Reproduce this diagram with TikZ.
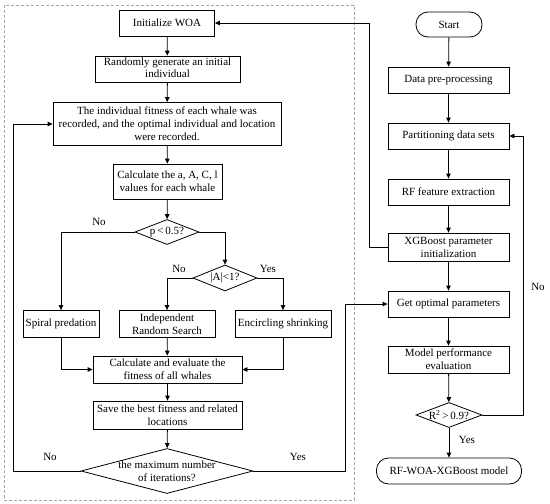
\documentclass[tikz,border=0pt]{standalone}
\usepackage{fontspec}
\setmainfont{Liberation Serif}
\usetikzlibrary{arrows.meta,shapes.geometric}
\begin{document}
\begin{tikzpicture}[x=1pt,y=-1pt,
  every node/.style={font=\fontsize{11}{13}\selectfont},
  box/.style={draw,line width=0.8pt,align=center,inner sep=1pt},
  term/.style={box,rounded corners=12pt},
  dia/.style={draw,line width=0.8pt,diamond,inner sep=0pt,aspect=2},
  arr/.style={line width=0.8pt,-{Triangle[length=5pt,width=4.5pt]}},
  lab/.style={inner sep=1pt}]
\useasboundingbox (0,0) rectangle (550,504);
\draw[gray!70,dash pattern=on 3pt off 2pt,line width=0.6pt] (4,5) rectangle (354,500);
% left column
\node[box,minimum width=95pt,minimum height=26pt] (init) at (167,23) {Initialize WOA};
\node[box,minimum width=145pt,minimum height=26pt] (rand) at (167.5,69) {\renewcommand{\arraystretch}{0.95}\begin{tabular}{@{}c@{}}Randomly generate an initial\\[-1pt] individual\end{tabular}};
\node[box,minimum width=228pt,minimum height=43pt] (fit) at (167,124) {The individual fitness of each whale was\\recorded, and the optimal individual and location\\were recorded.};
\node[box,minimum width=109pt,minimum height=35pt] (calc) at (167.5,181.5) {Calculate the a, A, C, l\\values for each whale};
\node[dia,minimum width=64pt,minimum height=25pt,label={center:p\,<\,0.5?}] (p) at (167,232) {};
\node[dia,minimum width=64pt,minimum height=26pt,label={center:|A|<1?}] (A) at (225,278) {};
\node[box,minimum width=76pt,minimum height=27pt] (spiral) at (61,324) {Spiral predation};
\node[box,minimum width=96pt,minimum height=27pt] (irs) at (167,324) {Independent\\Random Search};
\node[box,minimum width=96pt,minimum height=27pt] (enc) at (283,324) {Encircling shrinking};
\node[box,minimum width=149pt,minimum height=27pt] (eval) at (167.5,369.5) {Calculate and evaluate the\\fitness of all whales};
\node[box,minimum width=149pt,minimum height=28pt] (save) at (167.5,415) {Save the best fitness and related\\locations};
\node[dia,minimum width=172pt,minimum height=45pt,label={[align=center]center:the maximum number\\of iterations?}] (max) at (167,471) {};
% right column
\node[term,minimum width=66pt,minimum height=25pt] (start) at (449,24.5) {Start};
\node[box,minimum width=121pt,minimum height=26pt] (data) at (448.5,80) {Data pre-processing};
\node[box,minimum width=121pt,minimum height=26pt] (part) at (448.5,136) {Partitioning data sets};
\node[box,minimum width=121pt,minimum height=26pt] (rf) at (448.5,192) {RF feature extraction};
\node[box,minimum width=121pt,minimum height=28pt] (xgb) at (448.5,247) {XGBoost parameter\\initialization};
\node[box,minimum width=121pt,minimum height=26pt] (opt) at (448.5,304) {Get optimal parameters};
\node[box,minimum width=121pt,minimum height=27pt] (perf) at (448.5,359.5) {Model performance\\evaluation};
\node[dia,minimum width=66pt,minimum height=25pt,label={center:R\textsuperscript{2}\,>\,0.9?}] (r2) at (449,415) {};
\node[term,minimum width=145pt,minimum height=26pt] (final) at (449,471) {RF-WOA-XGBoost model};
% labels
\node[lab] (l1) at (99,222) {No};
\node[lab] (l2) at (179,269) {No};
\node[lab] (l3) at (268,269) {Yes};
\node[lab] (l4) at (50,457) {No};
\node[lab] (l5) at (298,457) {Yes};
\node[lab] (l6) at (467,440) {Yes};
\node[lab] (l7) at (538,287) {No};
% left connectors
\draw[arr] (init) -- (rand);
\draw[arr] (rand) -- (fit);
\draw[arr] (fit) -- (calc);
\draw[arr] (calc) -- (p);
\draw[arr] (p.west) -| (spiral.north);
\draw[arr] (p.east) -| (A.north);
\draw[arr] (A.west) -| (irs.north);
\draw[arr] (A.east) -| (enc.north);
\draw[arr] (spiral.south) |- (eval.west);
\draw[arr] (enc.south) |- (eval.east);
\draw[arr] (irs) -- (eval);
\draw[arr] (eval) -- (save);
\draw[arr] (save) -- (max);
\draw[arr] (max.west) -- ++(-67,0) |- (fit.west);
\draw[arr] (max.east) -- ++(92,0) |- (opt.west);
% right connectors
\draw[arr] (start) -- (data);
\draw[arr] (data) -- (part);
\draw[arr] (part) -- (rf);
\draw[arr] (rf) -- (xgb);
\draw[arr] (xgb) -- (opt);
\draw[arr] (opt) -- (perf);
\draw[arr] (perf) -- (r2);
\draw[arr] (r2) -- (final);
\draw[arr] (r2.east) -- ++(41,0) |- (part.east);
\draw[arr] (xgb.west) -- ++(-18,0) |- (init.east);
\end{tikzpicture}
\end{document}
